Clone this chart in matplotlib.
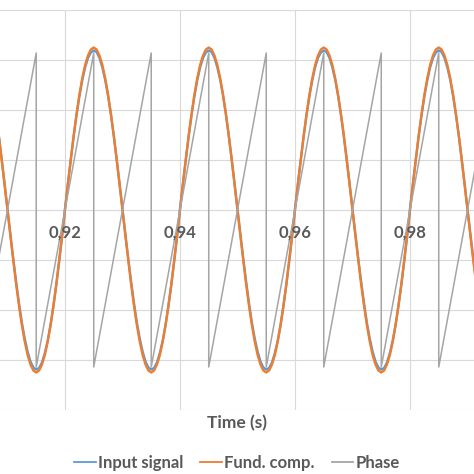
import numpy as np
import matplotlib
matplotlib.use("Agg")
import matplotlib.pyplot as plt

# sample times (s), 0.5 ms steps from 0.908 to 0.992
time_s = np.round(np.arange(1816, 1985) * 0.0005, 4)

# input signal
input_signal = [
    1.90, 1.47, 1.01, 0.52,
    0.02, -0.48, -0.97, -1.43, -1.86, -2.25, -2.57, -2.83, -3.03, -3.15, -3.19, -3.16, -3.05, -2.86, -2.61, -2.29, -1.91, -1.49, -1.02, -0.53,
    0.02, 0.52, 1.00, 1.46, 1.89, 2.27, 2.59, 2.85, 3.04, 3.15, 3.19, 3.16, 3.04, 2.85, 2.60, 2.28, 1.90, 1.47, 1.01, 0.52,
    0.02, -0.48, -0.97, -1.43, -1.86, -2.25, -2.57, -2.83, -3.03, -3.15, -3.19, -3.16, -3.05, -2.86, -2.61, -2.29, -1.91, -1.49, -1.02, -0.53,
    0.02, 0.52, 1.00, 1.46, 1.89, 2.27, 2.59, 2.85, 3.04, 3.15, 3.19, 3.16, 3.04, 2.85, 2.60, 2.28, 1.90, 1.47, 1.01, 0.52,
    0.02, -0.48, -0.97, -1.43, -1.86, -2.25, -2.57, -2.83, -3.03, -3.15, -3.19, -3.16, -3.05, -2.86, -2.61, -2.29, -1.91, -1.49, -1.02, -0.53,
    0.02, 0.52, 1.00, 1.46, 1.89, 2.27, 2.59, 2.85, 3.04, 3.15, 3.19, 3.16, 3.04, 2.85, 2.60, 2.28, 1.90, 1.47, 1.01, 0.52,
    0.02, -0.48, -0.97, -1.43, -1.86, -2.25, -2.57, -2.83, -3.03, -3.15, -3.19, -3.16, -3.05, -2.86, -2.61, -2.29, -1.91, -1.49, -1.02, -0.53,
    0.02, 0.52, 1.00, 1.46, 1.89, 2.27, 2.59, 2.85, 3.04, 3.15, 3.19, 3.16, 3.04, 2.85, 2.60, 2.28, 1.90, 1.47, 1.01, 0.52,
    0.02, -0.48, -0.97, -1.43, -1.86,
]

# fundamental component
fund_comp = [
    1.91, 1.48, 1.00, 0.51,
    0.00, -0.51, -1.00, -1.48, -1.91, -2.30, -2.63, -2.90, -3.09, -3.21, -3.25, -3.21, -3.09, -2.90, -2.63, -2.30, -1.91, -1.48, -1.00, -0.51,
    0.00, 0.51, 1.00, 1.48, 1.91, 2.30, 2.63, 2.90, 3.09, 3.21, 3.25, 3.21, 3.09, 2.90, 2.63, 2.30, 1.91, 1.48, 1.00, 0.51,
    0.00, -0.51, -1.00, -1.48, -1.91, -2.30, -2.63, -2.90, -3.09, -3.21, -3.25, -3.21, -3.09, -2.90, -2.63, -2.30, -1.91, -1.48, -1.00, -0.51,
    0.00, 0.51, 1.00, 1.48, 1.91, 2.30, 2.63, 2.90, 3.09, 3.21, 3.25, 3.21, 3.09, 2.90, 2.63, 2.30, 1.91, 1.48, 1.00, 0.51,
    0.00, -0.51, -1.00, -1.48, -1.91, -2.30, -2.63, -2.90, -3.09, -3.21, -3.25, -3.21, -3.09, -2.90, -2.63, -2.30, -1.91, -1.48, -1.00, -0.51,
    0.00, 0.51, 1.00, 1.48, 1.91, 2.30, 2.63, 2.90, 3.09, 3.21, 3.25, 3.21, 3.09, 2.90, 2.63, 2.30, 1.91, 1.48, 1.00, 0.51,
    0.00, -0.51, -1.00, -1.48, -1.91, -2.30, -2.63, -2.90, -3.09, -3.21, -3.25, -3.21, -3.09, -2.90, -2.63, -2.30, -1.91, -1.48, -1.00, -0.51,
    0.00, 0.51, 1.00, 1.48, 1.91, 2.30, 2.63, 2.90, 3.09, 3.21, 3.25, 3.21, 3.09, 2.90, 2.63, 2.30, 1.91, 1.48, 1.00, 0.51,
    0.00, -0.51, -1.00, -1.48, -1.91,
]

# phase sawtooth corners (rad)
phase_t = [0.905, 0.915, 0.915, 0.925, 0.925, 0.935, 0.935, 0.945, 0.945,
           0.955, 0.955, 0.965, 0.965, 0.975, 0.975, 0.985, 0.985, 0.995]
phase_v = [-3.14, 3.14, -3.14, 3.14, -3.14, 3.14, -3.14, 3.14, -3.14,
           3.14, -3.14, 3.14, -3.14, 3.14, -3.14, 3.14, -3.14, 3.14]

tick_pos = [0.92, 0.94, 0.96, 0.98]
tick_lab = ['0,92', '0,94', '0,96', '0,98']

txt_col = '#595959'
plt.rcParams['font.family'] = ['Lato', 'DejaVu Sans']

fig = plt.figure(figsize=(4.74, 4.74), dpi=100)
ax = fig.add_axes([0, 64 / 474, 1, 400 / 474])

ax.plot(time_s, input_signal, color='#5B9BD5', lw=1.7, label='Input signal')
ax.plot(time_s, fund_comp, color='#ED7D31', lw=1.7, label='Fund. comp.')
ax.plot(phase_t, phase_v, color='#A5A5A5', lw=1.1, label='Phase')

ax.set_xticks(np.arange(0.90, 1.001, 0.02))
ax.set_yticks(np.arange(-4, 5, 1))
ax.set_xlim(0.9087, 0.99113)
ax.set_ylim(-4, 4)
ax.grid(True, color='#D9D9D9', lw=0.8)
ax.set_axisbelow(True)
ax.tick_params(length=0, labelbottom=False, labelleft=False)
for s in ax.spines.values():
    s.set_visible(False)

for p, l in zip(tick_pos, tick_lab):
    ax.annotate(l, (p, 0), xytext=(0, -16.5), textcoords='offset points',
                ha='center', va='center', fontsize=12, fontweight='bold',
                color=txt_col)

fig.text(0.5, 1 - 423 / 474, 'Time (s)', ha='center', va='center',
         fontsize=12.5, fontweight='bold', color=txt_col)

leg = fig.legend(loc='center', bbox_to_anchor=(0.5, 1 - 463 / 474), ncol=3,
                 frameon=False, handlelength=1.3, handletextpad=0.15,
                 columnspacing=1.0, prop={'size': 12, 'weight': 'bold'})
for h in leg.get_lines():
    h.set_linewidth(1.3)
for t in leg.get_texts():
    t.set_color(txt_col)

fig.savefig('out.png', dpi=100)
